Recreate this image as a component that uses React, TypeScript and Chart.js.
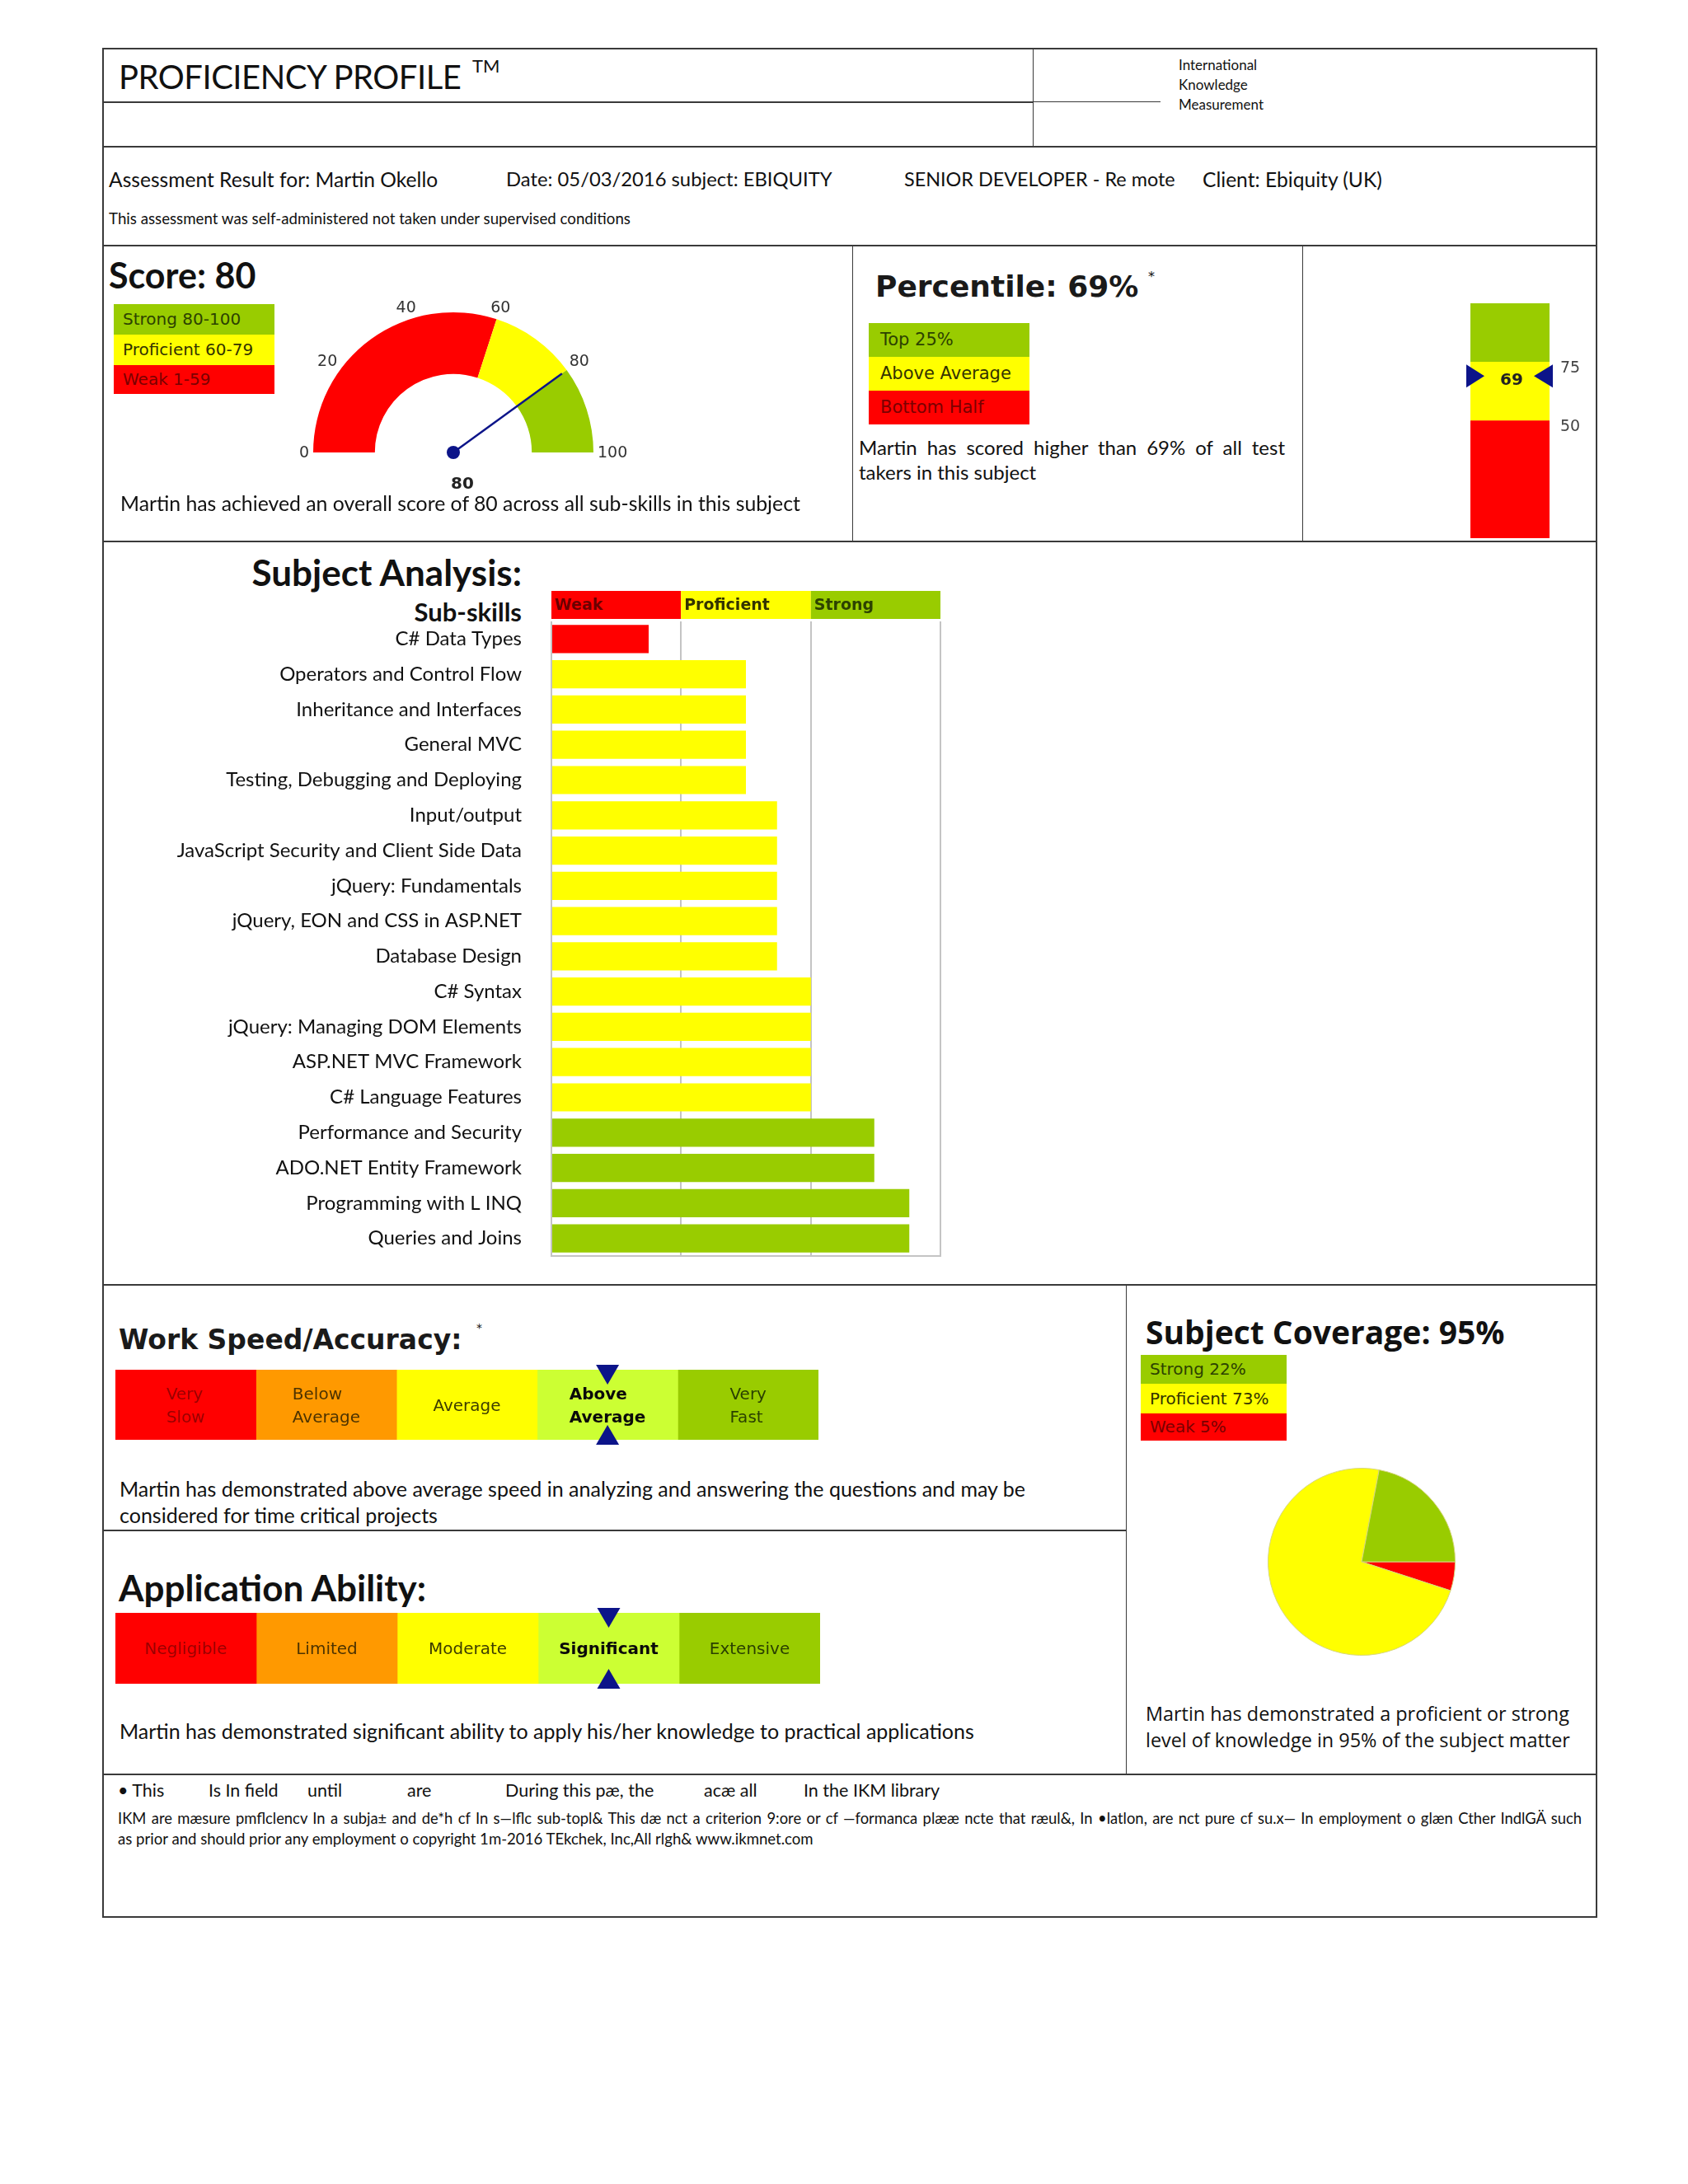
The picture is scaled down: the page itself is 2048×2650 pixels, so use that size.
import React, { useEffect, useRef } from 'react';
import { Chart, registerables } from 'chart.js';

Chart.register(...registerables);

if (typeof document !== 'undefined') {
  document.body.style.margin = '0';
  document.body.style.background = '#ffffff';
}

const LATO = 'Lato, "Open Sans", sans-serif';
const DEJA = '"DejaVu Sans", sans-serif';
const OPEN = '"Open Sans", sans-serif';

const RED = '#ff0000';
const YELLOW = '#ffff00';
const GREEN = '#99cc00';
const ORANGE = '#ff9900';
const LIME = '#ccff33';
const NAVY = '#0c1489';

Chart.defaults.font.family = 'DejaVu Sans';

// ---------- Score gauge ----------
const score = 80;
const gaugeBands = ['Weak', 'Proficient', 'Strong'];
const gaugeBandSizes = [60, 20, 20];
const gaugeTicks = [0, 20, 40, 60, 80, 100];
const scoreLegend = ['Strong 80-100', 'Proficient 60-79', 'Weak 1-59'];

// ---------- Percentile ----------
const percentile = 69;
const percentileBands = ['Bottom Half', 'Above Average', 'Top 25%'];
const percentileBandSizes = [50, 25, 25];
const percentileTicks = [50, 75];
const percentileLegend = ['Top 25%', 'Above Average', 'Bottom Half'];

// ---------- Subject analysis ----------
const subSkills = [
  'C# Data Types',
  'Operators and Control Flow',
  'Inheritance and Interfaces',
  'General MVC',
  'Testing, Debugging and Deploying',
  'Input/output',
  'JavaScript Security and Client Side Data',
  'jQuery: Fundamentals',
  'jQuery, EON and CSS in ASP.NET',
  'Database Design',
  'C# Syntax',
  'jQuery: Managing DOM Elements',
  'ASP.NET MVC Framework',
  'C# Language Features',
  'Performance and Security',
  'ADO.NET Entity Framework',
  'Programming with L INQ',
  'Queries and Joins',
];
const subSkillScores = [25, 50, 50, 50, 50, 58, 58, 58, 58, 58, 66.7, 66.7, 66.7, 66.7, 83, 83, 92, 92];
const analysisBands = ['Weak', 'Proficient', 'Strong'];
const analysisBandEdges = [0, 33.3, 66.7, 100];

// ---------- Work speed / application ----------
const speedLevels = [['Very', 'Slow'], ['Below', 'Average'], ['Average'], ['Above', 'Average'], ['Very', 'Fast']];
const speedSegments = [1, 1, 1, 1, 1];
const speedResult = 3;
const abilityLevels = [['Negligible'], ['Limited'], ['Moderate'], ['Significant'], ['Extensive']];
const abilitySegments = [1, 1, 1, 1, 1];
const abilityResult = 3;

// ---------- Coverage ----------
const coverageLabels = ['Strong', 'Proficient', 'Weak'];
const coverageValues = [22, 73, 5];

const bandColors = [GREEN, YELLOW, RED];
const bandTextColors = ['#2c4200', '#333300', '#7a0000'];
const scaleColors = [RED, ORANGE, YELLOW, LIME, GREEN];
const scaleTextColors = ['#990000', '#4d3300', '#3d3d00', '#0a0a0a', '#2a4000'];

const colorForScore = (v: number) => (v < analysisBandEdges[1] ? RED : v <= analysisBandEdges[2] ? YELLOW : GREEN);

// ---------- plugins ----------
const gaugePlugin = {
  id: 'gaugeDecor',
  afterDraw(chart: any) {
    const arc: any = chart.getDatasetMeta(0).data[0];
    const cx = arc.x;
    const cy = arc.y;
    const R = arc.outerRadius;
    const ctx = chart.ctx;
    ctx.save();
    ctx.font = '19px "DejaVu Sans"';
    ctx.fillStyle = '#333333';
    ctx.textAlign = 'center';
    ctx.textBaseline = 'middle';
    const capH = 14;
    gaugeTicks.forEach((v) => {
      const a = -Math.PI + (v / 100) * Math.PI;
      const cos = Math.cos(a);
      const sin = Math.sin(a);
      const w = ctx.measureText(String(v)).width;
      const r = R + 5 + Math.abs(cos) * w / 2 + Math.abs(sin) * capH / 2;
      ctx.fillText(String(v), cx + r * cos, cy + r * sin + 1);
    });
    const a = -Math.PI + (score / 100) * Math.PI;
    ctx.strokeStyle = NAVY;
    ctx.lineWidth = 2.5;
    ctx.beginPath();
    ctx.moveTo(cx, cy);
    ctx.lineTo(cx + (R - 7) * Math.cos(a), cy + (R - 7) * Math.sin(a));
    ctx.stroke();
    ctx.fillStyle = NAVY;
    ctx.beginPath();
    ctx.arc(cx, cy, 8, 0, Math.PI * 2);
    ctx.fill();
    ctx.font = 'bold 20px "DejaVu Sans"';
    ctx.fillStyle = '#222222';
    ctx.fillText(String(score), cx + 11, cy + 39);
    ctx.restore();
  },
};

const percentilePlugin = {
  id: 'pctDecor',
  afterDatasetsDraw(chart: any) {
    const ctx = chart.ctx;
    const y = chart.scales.y.getPixelForValue(percentile);
    const { left, right } = chart.chartArea;
    ctx.save();
    ctx.fillStyle = NAVY;
    ctx.beginPath();
    ctx.moveTo(left - 5, y - 14);
    ctx.lineTo(left - 5, y + 14);
    ctx.lineTo(left + 17, y);
    ctx.closePath();
    ctx.fill();
    ctx.beginPath();
    ctx.moveTo(right + 4, y - 14);
    ctx.lineTo(right + 4, y + 14);
    ctx.lineTo(right - 19, y);
    ctx.closePath();
    ctx.fill();
    ctx.font = 'bold 20px "DejaVu Sans"';
    ctx.fillStyle = '#222222';
    ctx.textAlign = 'center';
    ctx.textBaseline = 'middle';
    ctx.fillText(String(percentile), (left + right) / 2 + 2, y + 5);
    ctx.restore();
  },
};

const analysisHeaderPlugin = {
  id: 'analysisHeader',
  afterDraw(chart: any) {
    const xs = chart.scales.x;
    const top = chart.chartArea.top;
    const ctx = chart.ctx;
    ctx.save();
    const cols = [RED, YELLOW, GREEN];
    const tcols = ['#6b0000', '#333300', '#2c4200'];
    analysisBands.forEach((b, i) => {
      const x0 = xs.getPixelForValue(analysisBandEdges[i]);
      const x1 = xs.getPixelForValue(analysisBandEdges[i + 1]);
      ctx.fillStyle = cols[i];
      ctx.fillRect(x0, top - 37, x1 - x0, 34);
      ctx.fillStyle = tcols[i];
      ctx.font = 'bold 19px "DejaVu Sans"';
      ctx.textAlign = 'left';
      ctx.textBaseline = 'middle';
      ctx.fillText(b, x0 + 4, top - 19);
    });
    ctx.restore();
  },
};

function scaleDecor(lines: string[][], resultIndex: number) {
  return {
    id: 'scaleDecor',
    afterDatasetsDraw(chart: any) {
      const ctx = chart.ctx;
      const area = chart.chartArea;
      ctx.save();
      lines.forEach((ls, i) => {
        const el: any = chart.getDatasetMeta(i).data[0];
        const { x, y } = el.getCenterPoint();
        const bold = i === resultIndex;
        ctx.font = `${bold ? 'bold ' : ''}20px "DejaVu Sans"`;
        ctx.fillStyle = scaleTextColors[i];
        ctx.textBaseline = 'middle';
        ctx.textAlign = 'left';
        const w = Math.max(...ls.map((l) => ctx.measureText(l).width));
        const lh = 28;
        ls.forEach((l, j) => ctx.fillText(l, x - w / 2, y + 2 + (j - (ls.length - 1) / 2) * lh));
      });
      const el: any = chart.getDatasetMeta(resultIndex).data[0];
      const mx = el.getCenterPoint().x;
      ctx.fillStyle = NAVY;
      ctx.beginPath();
      ctx.moveTo(mx - 14, area.top - 6);
      ctx.lineTo(mx + 14, area.top - 6);
      ctx.lineTo(mx, area.top + 18);
      ctx.closePath();
      ctx.fill();
      ctx.beginPath();
      ctx.moveTo(mx - 14, area.bottom + 6);
      ctx.lineTo(mx + 14, area.bottom + 6);
      ctx.lineTo(mx, area.bottom - 18);
      ctx.closePath();
      ctx.fill();
      ctx.restore();
    },
  };
}

const noPlugins = { legend: { display: false }, tooltip: { enabled: false } };

// ---------- builders ----------
const buildGauge = (c: HTMLCanvasElement) =>
  new Chart(c, {
    type: 'doughnut',
    data: { labels: gaugeBands, datasets: [{ data: gaugeBandSizes, backgroundColor: [RED, YELLOW, GREEN], borderWidth: 0 }] },
    options: {
      responsive: false,
      animation: false,
      rotation: -90,
      circumference: 180,
      cutout: '56%',
      layout: { autoPadding: false, padding: { left: 60, right: 60, top: 40, bottom: 60 } },
      plugins: noPlugins,
    } as any,
    plugins: [gaugePlugin],
  });

const buildPercentile = (c: HTMLCanvasElement) =>
  new Chart(c, {
    type: 'bar',
    data: {
      labels: [''],
      datasets: percentileBands.map((b, i) => ({
        label: b,
        data: [percentileBandSizes[i]],
        backgroundColor: [RED, YELLOW, GREEN][i],
        borderWidth: 0,
        barPercentage: 1,
        categoryPercentage: 1,
      })),
    },
    options: {
      responsive: false,
      animation: false,
      layout: { autoPadding: false, padding: { left: 40, right: 0, top: 20, bottom: 4 } },
      plugins: noPlugins,
      scales: {
        x: { stacked: true, display: false },
        y: {
          stacked: true,
          min: 0,
          max: 100,
          position: 'right',
          grid: { display: false, drawTicks: false },
          border: { display: false },
          afterBuildTicks: (axis: any) => {
            axis.ticks = percentileTicks.map((v) => ({ value: v }));
          },
          afterFit: (axis: any) => {
            axis.width = 40;
            axis.paddingTop = 0;
            axis.paddingBottom = 0;
          },
          ticks: { padding: 13, labelOffset: 8, color: '#444444', font: { family: 'DejaVu Sans', size: 19 } },
        },
      },
    } as any,
    plugins: [percentilePlugin],
  });

const buildAnalysis = (c: HTMLCanvasElement) =>
  new Chart(c, {
    type: 'bar',
    data: {
      labels: subSkills,
      datasets: [
        {
          data: subSkillScores,
          backgroundColor: subSkillScores.map(colorForScore),
          borderWidth: 0,
          barPercentage: 0.8,
          categoryPercentage: 1,
        },
      ],
    },
    options: {
      responsive: false,
      animation: false,
      indexAxis: 'y',
      layout: { autoPadding: false, padding: { left: 0, right: 19, top: 54, bottom: 6 } },
      plugins: noPlugins,
      scales: {
        x: {
          min: 0,
          max: 100,
          z: 1,
          afterBuildTicks: (axis: any) => {
            axis.ticks = analysisBandEdges.map((v) => ({ value: v }));
          },
          afterFit: (axis: any) => {
            axis.height = 0;
            axis.paddingLeft = 0;
            axis.paddingRight = 0;
          },
          ticks: { display: false },
          grid: { color: '#c4c4c4', lineWidth: 2, drawTicks: false },
          border: { color: '#c4c4c4', width: 2 },
        },
        y: {
          afterFit: (axis: any) => {
            axis.width = 539;
            axis.paddingTop = 0;
            axis.paddingBottom = 0;
          },
          grid: { display: false, drawTicks: false },
          border: { display: false },
          ticks: { padding: 36, autoSkip: false, color: '#111111', font: { family: 'Lato', size: 24 } },
        },
      },
    } as any,
    plugins: [analysisHeaderPlugin],
  });

const buildScale = (levels: string[][], segments: number[], result: number, pad: any) => (c: HTMLCanvasElement) =>
  new Chart(c, {
    type: 'bar',
    data: {
      labels: [''],
      datasets: levels.map((l, i) => ({
        label: l.join(' '),
        data: [segments[i]],
        backgroundColor: scaleColors[i],
        borderWidth: 0,
        barPercentage: 1,
        categoryPercentage: 1,
      })),
    },
    options: {
      responsive: false,
      animation: false,
      indexAxis: 'y',
      layout: { autoPadding: false, padding: pad },
      plugins: noPlugins,
      scales: {
        x: { stacked: true, min: 0, max: segments.reduce((a, b) => a + b, 0), display: false },
        y: { stacked: true, display: false },
      },
    } as any,
    plugins: [scaleDecor(levels, result)],
  });

const buildCoverage = (c: HTMLCanvasElement) =>
  new Chart(c, {
    type: 'pie',
    data: {
      labels: [...coverageLabels].reverse(),
      datasets: [
        {
          data: [...coverageValues].reverse(),
          backgroundColor: [RED, YELLOW, GREEN],
          borderColor: '#d6d680',
          borderWidth: 1,
        },
      ],
    },
    options: {
      responsive: false,
      animation: false,
      rotation: 90,
      layout: { autoPadding: false, padding: 16 },
      plugins: noPlugins,
    } as any,
  });

// ---------- components ----------
function ChartCanvas({ left, top, width, height, build }: { left: number; top: number; width: number; height: number; build: (c: HTMLCanvasElement) => Chart }) {
  const ref = useRef<HTMLCanvasElement | null>(null);
  useEffect(() => {
    if (!ref.current) return;
    const chart = build(ref.current);
    return () => chart.destroy();
  }, []);
  return <canvas ref={ref} width={width} height={height} style={{ position: 'absolute', left, top, width, height }} />;
}

function Ln({ x, y, w, h, c = '#3a3a3a' }: { x: number; y: number; w: number; h: number; c?: string }) {
  return <div style={{ position: 'absolute', left: x, top: y, width: w, height: h, background: c }} />;
}

function Txt({ x, y, s, children, f = LATO, b = false, c = '#111111', right = false, style = {} }: any) {
  const st: any = {
    position: 'absolute',
    top: y - s / 2,
    fontFamily: f,
    fontSize: s,
    lineHeight: `${s}px`,
    fontWeight: b ? 700 : 400,
    color: c,
    whiteSpace: 'nowrap',
    ...style,
  };
  if (right) st.right = 2048 - x;
  else st.left = x;
  return <div style={st}>{children}</div>;
}

function LegendBox({ x, y, w, heights, items, s, pad }: { x: number; y: number; w: number; heights: number[]; items: string[]; s: number; pad: number }) {
  let top = y;
  return (
    <>
      {items.map((it, i) => {
        const t = top;
        top += heights[i];
        return (
          <div
            key={i}
            style={{
              position: 'absolute',
              left: x,
              top: t,
              width: w,
              height: heights[i],
              background: bandColors[i],
              color: bandTextColors[i],
              fontFamily: DEJA,
              fontSize: s,
              lineHeight: `${heights[i]}px`,
              paddingLeft: pad,
              boxSizing: 'border-box',
              whiteSpace: 'nowrap',
            }}
          >
            {it}
          </div>
        );
      })}
    </>
  );
}

export default function App() {
  return (
    <div style={{ position: 'relative', width: 2048, height: 2650, background: '#ffffff', overflow: 'hidden' }}>
      {/* frame */}
      <div style={{ position: 'absolute', left: 124, top: 58, width: 1814, height: 2269, border: '2px solid #3a3a3a', boxSizing: 'border-box' }} />
      <Ln x={124} y={123} w={1129} h={2} />
      <Ln x={1253} y={58} w={1} h={120} />
      <Ln x={1253} y={123} w={155} h={1} />
      <Ln x={124} y={177} w={1814} h={2} />
      <Ln x={124} y={297} w={1814} h={2} />
      <Ln x={1034} y={298} w={1} h={359} />
      <Ln x={1580} y={298} w={1} h={359} />
      <Ln x={124} y={656} w={1814} h={2} />
      <Ln x={124} y={1558} w={1814} h={2} />
      <Ln x={1366} y={1559} w={1} h={594} />
      <Ln x={124} y={1856} w={1242} h={2} />
      <Ln x={124} y={2152} w={1814} h={2} />

      {/* header */}
      <Txt x={144} y={93} s={40} style={{ letterSpacing: -0.5 }}>PROFICIENCY PROFILE</Txt>
      <Txt x={573} y={80} s={22}>TM</Txt>
      <Txt x={1430} y={78} s={17}>International</Txt>
      <Txt x={1430} y={102} s={17}>Knowledge</Txt>
      <Txt x={1430} y={126} s={17}>Measurement</Txt>

      <Txt x={132} y={218} s={24.6}>Assessment Result for: Martin Okello</Txt>
      <Txt x={614} y={218} s={23.8}>Date: 05/03/2016 subject: EBIQUITY</Txt>
      <Txt x={1097} y={218} s={23.4}>SENIOR DEVELOPER - Re mote</Txt>
      <Txt x={1459} y={218} s={24.6}>Client: Ebiquity (UK)</Txt>
      <Txt x={132} y={265} s={18.7}>This assessment was self-administered not taken under supervised conditions</Txt>

      {/* score */}
      <Txt x={132} y={333} s={43} b>Score: 80</Txt>
      <LegendBox x={138} y={369} w={195} heights={[37, 37, 35]} items={scoreLegend} s={20} pad={11} />
      <ChartCanvas left={320} top={339} width={460} height={270} build={buildGauge} />
      <Txt x={146} y={611} s={24.8}>Martin has achieved an overall score of 80 across all sub-skills in this subject</Txt>

      {/* percentile */}
      <Txt x={1062} y={348} s={36} b f={DEJA} c="#1a1a1a">Percentile: 69%</Txt>
      <Txt x={1393} y={336} s={16} f={DEJA}>*</Txt>
      <LegendBox x={1054} y={392} w={195} heights={[41, 41, 41]} items={percentileLegend} s={21} pad={14} />
      <div style={{ position: 'absolute', left: 1042, top: 527, width: 517, fontFamily: LATO, fontSize: 24, lineHeight: '31px', color: '#111', textAlign: 'justify', textAlignLast: 'justify' as any, whiteSpace: 'nowrap' }}>
        Martin has scored higher than 69% of all test
      </div>
      <Txt x={1042} y={573} s={24}>takers in this subject</Txt>
      <ChartCanvas left={1744} top={348} width={176} height={309} build={buildPercentile} />

      {/* subject analysis */}
      <Txt x={633} y={694} s={44} b right>Subject Analysis:</Txt>
      <Txt x={633} y={742} s={31} b right>Sub-skills</Txt>
      <ChartCanvas left={130} top={700} width={1030} height={830} build={buildAnalysis} />

      {/* work speed */}
      <Txt x={144} y={1625} s={33} b f={DEJA} c="#1a1a1a">Work Speed/Accuracy:</Txt>
      <Txt x={578} y={1611} s={14} f={DEJA}>*</Txt>
      <ChartCanvas left={130} top={1640} width={880} height={130} build={buildScale(speedLevels, speedSegments, speedResult, { left: 10, right: 17, top: 22, bottom: 23 })} />
      <Txt x={145} y={1806} s={25}>Martin has demonstrated above average speed in analyzing and answering the questions and may be</Txt>
      <Txt x={145} y={1838} s={25}>considered for time critical projects</Txt>

      {/* application */}
      <Txt x={144} y={1926} s={44} b>Application Ability:</Txt>
      <ChartCanvas left={130} top={1935} width={880} height={130} build={buildScale(abilityLevels, abilitySegments, abilityResult, { left: 10, right: 15, top: 22, bottom: 22 })} />
      <Txt x={145} y={2100} s={25}>Martin has demonstrated significant ability to apply his/her knowledge to practical applications</Txt>

      {/* coverage */}
      <Txt x={1390} y={1615} s={39} b f={OPEN}>Subject Coverage: 95%</Txt>
      <LegendBox x={1384} y={1644} w={177} heights={[35, 36, 33]} items={coverageLabels.map((l, i) => `${l} ${coverageValues[i]}%`)} s={20} pad={11} />
      <ChartCanvas left={1522} top={1765} width={260} height={260} build={buildCoverage} />
      <Txt x={1390} y={2080} s={23.4} f={OPEN}>Martin has demonstrated a proficient or strong</Txt>
      <Txt x={1390} y={2112} s={23.4} f={OPEN}>level of knowledge in 95% of the subject matter</Txt>

      {/* footer */}
      <Txt x={143} y={2173} s={21.5}>• This</Txt>
      <Txt x={253} y={2173} s={21.5}>Is In field</Txt>
      <Txt x={373} y={2173} s={21.5}>until</Txt>
      <Txt x={494} y={2173} s={21.5}>are</Txt>
      <Txt x={613} y={2173} s={21.5}>During this pæ, the</Txt>
      <Txt x={854} y={2173} s={21.5}>acæ all</Txt>
      <Txt x={975} y={2173} s={21.5}>In the IKM library</Txt>
      <div style={{ position: 'absolute', left: 143, top: 2196, width: 1776, fontFamily: LATO, fontSize: 18.4, lineHeight: '20px', color: '#111', textAlign: 'justify', textAlignLast: 'justify' as any }}>
        IKM are mæsure pmflclencv In a subja± and de*h cf In s—lflc sub-topl& This dæ nct a criterion 9:ore or cf —formanca plææ ncte that ræul&, In •latlon, are nct pure cf su.x— In employment o glæn Cther IndlGÄ such
      </div>
      <Txt x={143} y={2231} s={18.6}>as prior and should prior any employment o copyright 1m-2016 TEkchek, Inc,All rlgh& www.ikmnet.com</Txt>
    </div>
  );
}
